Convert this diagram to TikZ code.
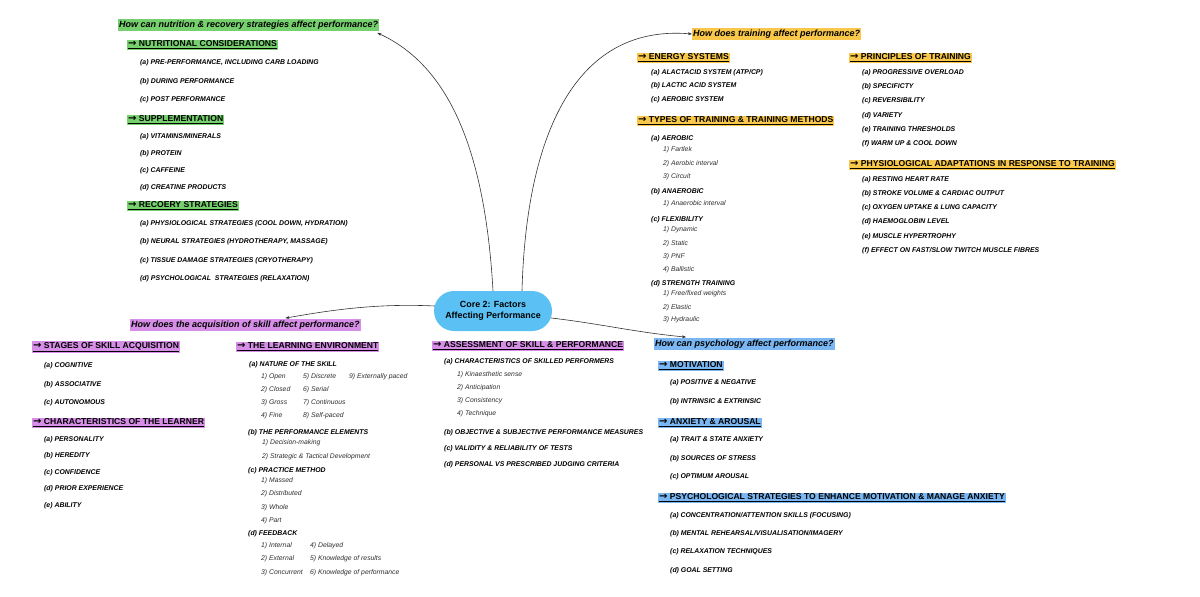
\documentclass[tikz,border=0pt]{standalone}
\usepackage{fontspec}
\setmainfont{Liberation Sans}
\newfontfamily\arrowfont{DejaVu Sans}
\usetikzlibrary{arrows.meta,calc}
\definecolor{cgreen}{RGB}{118,208,110}
\definecolor{cyellow}{RGB}{249,200,74}
\definecolor{cpurple}{RGB}{214,142,230}
\definecolor{cblue}{RGB}{122,182,242}
\definecolor{ccore}{RGB}{91,193,245}
\newcommand{\myhd}[1]{\underline{{\arrowfont\bfseries\fontsize{10}{10}\selectfont →} #1}}
\tikzset{
 item/.style={anchor=west, inner sep=0pt, font=\fontsize{6.9}{8}\selectfont\bfseries\itshape},
 sub/.style={anchor=west, inner sep=0pt, text=black!82, font=\fontsize{6.8}{8}\selectfont\itshape},
 head/.style={anchor=west, inner xsep=1pt, inner ysep=1.3pt, font=\fontsize{8.6}{10}\selectfont\bfseries},
 quest/.style={anchor=west, inner xsep=1pt, inner ysep=1.5pt, font=\fontsize{9}{11}\selectfont\bfseries\itshape},
 corebox/.style={fill=ccore, rounded corners=20pt, minimum width=118pt, minimum height=40pt, align=center, inner sep=0pt, font=\fontsize{8.9}{11.5}\selectfont\bfseries},
 link/.style={draw=black!80, line width=0.6pt, -{Stealth[length=4pt,width=3pt]}},
}
\begin{document}
\begin{tikzpicture}[x=1pt,y=-1pt]
\useasboundingbox (0,0) rectangle (1200,597);
\fill[white] (0,0) rectangle (1200,597);

% central
\node[corebox] (core) at (493,311) {Core 2: Factors\\Affecting Performance};

% ---------- green ----------
\node[quest, fill=cgreen] (g0) at (118,25) {How can nutrition \& recovery strategies affect performance?};
\node[head, fill=cgreen] (g1) at (127,45) {\myhd{NUTRITIONAL CONSIDERATIONS}};
\node[item] (g1a) at (140,63) {(a) PRE-PERFORMANCE, INCLUDING CARB LOADING};
\node[item] (g1b) at (140,82) {(b) DURING PERFORMANCE};
\node[item] (g1c) at (140,100) {(c) POST PERFORMANCE};
\node[head, fill=cgreen] (g2) at (127,120) {\myhd{SUPPLEMENTATION}};
\node[item] (g2a) at (140,137) {(a) VITAMINS/MINERALS};
\node[item] (g2b) at (140,154) {(b) PROTEIN};
\node[item] (g2c) at (140,171) {(c) CAFFEINE};
\node[item] (g2d) at (140,188) {(d) CREATINE PRODUCTS};
\node[head, fill=cgreen] (g3) at (127,206) {\myhd{RECOERY STRATEGIES}};
\node[item] (g3a) at (140,224) {(a) PHYSIOLOGICAL STRATEGIES (COOL DOWN, HYDRATION)};
\node[item] (g3b) at (140,242) {(b) NEURAL STRATEGIES (HYDROTHERAPY, MASSAGE)};
\node[item] (g3c) at (140,261) {(c) TISSUE DAMAGE STRATEGIES (CRYOTHERAPY)};
\node[item] (g3d) at (140,279) {(d) PSYCHOLOGICAL\ \ STRATEGIES (RELAXATION)};

% ---------- yellow ----------
\node[quest, fill=cyellow] (y0) at (692,34) {How does training affect performance?};
\node[head, fill=cyellow] (y1) at (637,58) {\myhd{ENERGY SYSTEMS}};
\node[item] (y1a) at (651,73) {(a) ALACTACID SYSTEM (ATP/CP)};
\node[item] (y1b) at (651,86) {(b) LACTIC ACID SYSTEM};
\node[item] (y1c) at (651,100) {(c) AEROBIC SYSTEM};
\node[head, fill=cyellow] (y2) at (637,121) {\myhd{TYPES OF TRAINING \& TRAINING METHODS}};
\node[item] (y2a) at (651,139) {(a) AEROBIC};
\node[sub] (y2a1) at (663,150) {1) Fartlek};
\node[sub] (y2a2) at (663,164) {2) Aerobic interval};
\node[sub] (y2a3) at (663,177) {3) Circuit};
\node[item] (y2b) at (651,192) {(b) ANAEROBIC};
\node[sub] (y2b1) at (663,204) {1) Anaerobic interval};
\node[item] (y2c) at (651,220) {(c) FLEXIBILITY};
\node[sub] (y2c1) at (663,230) {1) Dynamic};
\node[sub] (y2c2) at (663,244) {2) Static};
\node[sub] (y2c3) at (663,257) {3) PNF};
\node[sub] (y2c4) at (663,270) {4) Ballistic};
\node[item] (y2d) at (651,284) {(d) STRENGTH TRAINING};
\node[sub] (y2d1) at (663,294) {1) Free/fixed weights};
\node[sub] (y2d2) at (663,308) {2) Elastic};
\node[sub] (y2d3) at (663,320) {3) Hydraulic};
\node[head, fill=cyellow] (y3) at (849,58) {\myhd{PRINCIPLES OF TRAINING}};
\node[item] (y3a) at (862,73) {(a) PROGRESSIVE OVERLOAD};
\node[item] (y3b) at (862,87) {(b) SPECIFICTY};
\node[item] (y3c) at (862,101) {(c) REVERSIBILITY};
\node[item] (y3d) at (862,116) {(d) VARIETY};
\node[item] (y3e) at (862,130) {(e) TRAINING THRESHOLDS};
\node[item] (y3f) at (862,144) {(f) WARM UP \& COOL DOWN};
\node[head, fill=cyellow] (y4) at (849,165) {\myhd{PHYSIOLOGICAL ADAPTATIONS IN RESPONSE TO TRAINING}};
\node[item] (y4a) at (862,180) {(a) RESTING HEART RATE};
\node[item] (y4b) at (862,194) {(b) STROKE VOLUME \& CARDIAC OUTPUT};
\node[item] (y4c) at (862,208) {(c) OXYGEN UPTAKE \& LUNG CAPACITY};
\node[item] (y4d) at (862,222) {(d) HAEMOGLOBIN LEVEL};
\node[item] (y4e) at (862,237) {(e) MUSCLE HYPERTROPHY};
\node[item] (y4f) at (862,251) {(f) EFFECT ON FAST/SLOW TWITCH MUSCLE FIBRES};

% ---------- purple ----------
\node[quest, fill=cpurple] (p0) at (130,325) {How does the acquisition of skill affect performance?};
\node[head, fill=cpurple] (p1) at (32,347) {\myhd{STAGES OF SKILL ACQUISITION}};
\node[item] (p1a) at (44,366) {(a) COGNITIVE};
\node[item] (p1b) at (44,385) {(b) ASSOCIATIVE};
\node[item] (p1c) at (44,403) {(c) AUTONOMOUS};
\node[head, fill=cpurple] (p2) at (32,423) {\myhd{CHARACTERISTICS OF THE LEARNER}};
\node[item] (p2a) at (44,440) {(a) PERSONALITY};
\node[item] (p2b) at (44,456) {(b) HEREDITY};
\node[item] (p2c) at (44,473) {(c) CONFIDENCE};
\node[item] (p2d) at (44,489) {(d) PRIOR EXPERIENCE};
\node[item] (p2e) at (44,506) {(e) ABILITY};
\node[head, fill=cpurple] (p3) at (236,347) {\myhd{THE LEARNING ENVIRONMENT}};
\node[item] (p3a) at (249,365) {(a) NATURE OF THE SKILL};
\node[sub] (p3a1) at (261,377) {1) Open};
\node[sub] (p3a5) at (303,377) {5) Discrete};
\node[sub] (p3a9) at (349,377) {9) Externally paced};
\node[sub] (p3a2) at (261,390) {2) Closed};
\node[sub] (p3a6) at (303,390) {6) Serial};
\node[sub] (p3a3) at (261,403) {3) Gross};
\node[sub] (p3a7) at (303,403) {7) Continuous};
\node[sub] (p3a4) at (261,416) {4) Fine};
\node[sub] (p3a8) at (303,416) {8) Self-paced};
\node[item] (p3b) at (248,433) {(b) THE PERFORMANCE ELEMENTS};
\node[sub] (p3b1) at (262,443) {1) Decision-making};
\node[sub] (p3b2) at (262,457) {2) Strategic \& Tactical Development};
\node[item] (p3c) at (248,471) {(c) PRACTICE METHOD};
\node[sub] (p3c1) at (261,481) {1) Massed};
\node[sub] (p3c2) at (261,494) {2) Distributed};
\node[sub] (p3c3) at (261,508) {3) Whole};
\node[sub] (p3c4) at (261,521) {4) Part};
\node[item] (p3d) at (248,534) {(d) FEEDBACK};
\node[sub] (p3d1) at (261,546) {1) Internal};
\node[sub] (p3d4) at (310,546) {4) Delayed};
\node[sub] (p3d2) at (261,559) {2) External};
\node[sub] (p3d5) at (310,559) {5) Knowledge of results};
\node[sub] (p3d3) at (261,573) {3) Concurrent};
\node[sub] (p3d6) at (310,573) {6) Knowledge of performance};
\node[head, fill=cpurple] (p4) at (432,346) {\myhd{ASSESSMENT OF SKILL \& PERFORMANCE}};
\node[item] (p4a) at (444,362) {(a) CHARACTERISTICS OF SKILLED PERFORMERS};
\node[sub] (p4a1) at (457,375) {1) Kinaesthetic sense};
\node[sub] (p4a2) at (457,388) {2) Anticipation};
\node[sub] (p4a3) at (457,401) {3) Consistency};
\node[sub] (p4a4) at (457,414) {4) Technique};
\node[item] (p4b) at (444,433) {(b) OBJECTIVE \& SUBJECTIVE PERFORMANCE MEASURES};
\node[item] (p4c) at (444,449) {(c) VALIDITY \& RELIABILITY OF TESTS};
\node[item] (p4d) at (444,465) {(d) PERSONAL VS PRESCRIBED JUDGING CRITERIA};

% ---------- blue ----------
\node[quest, fill=cblue] (b0) at (654,344) {How can psychology affect performance?};
\node[head, fill=cblue] (b1) at (658,366) {\myhd{MOTIVATION}};
\node[item] (b1a) at (670,383) {(a) POSITIVE \& NEGATIVE};
\node[item] (b1b) at (670,402) {(b) INTRINSIC \& EXTRINSIC};
\node[head, fill=cblue] (b2) at (658,423) {\myhd{ANXIETY \& AROUSAL}};
\node[item] (b2a) at (670,440) {(a) TRAIT \& STATE ANXIETY};
\node[item] (b2b) at (670,459) {(b) SOURCES OF STRESS};
\node[item] (b2c) at (670,477) {(c) OPTIMUM AROUSAL};
\node[head, fill=cblue] (b3) at (658,498) {\myhd{PSYCHOLOGICAL STRATEGIES TO ENHANCE MOTIVATION \& MANAGE ANXIETY}};
\node[item] (b3a) at (670,516) {(a) CONCENTRATION/ATTENTION SKILLS (FOCUSING)};
\node[item] (b3b) at (670,534) {(b) MENTAL REHEARSAL/VISUALISATION/IMAGERY};
\node[item] (b3c) at (670,552) {(c) RELAXATION TECHNIQUES};
\node[item] (b3d) at (670,571) {(d) GOAL SETTING};

% ---------- connectors ----------
\draw[link] (core.north) .. controls ($(core.north)+(-8,-140)$) and ($(g0.south east)+(70,35)$) .. ($(g0.south east)+(-2,2)$);
\draw[link] ($(core.north)+(29,0)$) .. controls ($(core.north)+(33,-150)$) and ($(y0.west)+(-120,-10)$) .. (y0.west);
\draw[link] ($(core.west)+(1,-5)$) .. controls ($(core.west)+(-60,-8)$) and ($(p0.north)+(80,-8)$) .. ($(p0.north)+(40,-1)$);
\draw[link] ($(core.east)+(-1,7)$) .. controls ($(core.east)+(50,13)$) and ($(b0.north west)+(-20,-6)$) .. ($(b0.north west)+(32,-1)$);
\end{tikzpicture}
\end{document}
